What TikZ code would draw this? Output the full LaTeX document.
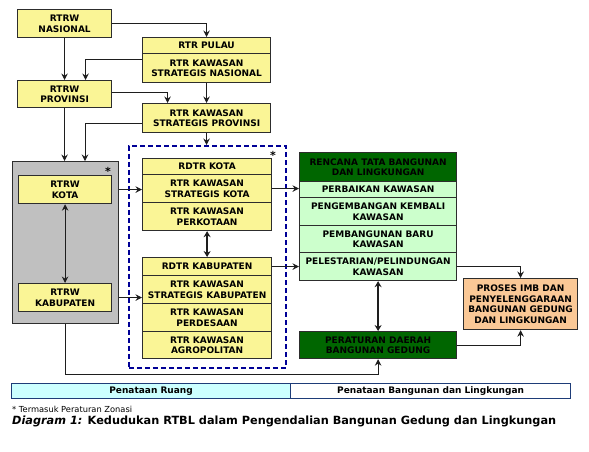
\documentclass[tikz,border=0pt]{standalone}
\usepackage{fontspec}
\setmainfont{DejaVu Sans}
\usetikzlibrary{arrows.meta,calc}
\definecolor{ylw}{RGB}{250,245,150}
\definecolor{dgreen}{RGB}{0,102,0}
\definecolor{lgreen}{RGB}{204,255,204}
\definecolor{peach}{RGB}{250,200,150}
\definecolor{grayfill}{RGB}{192,192,192}
\definecolor{navyd}{RGB}{0,0,150}
\definecolor{bandblue}{RGB}{30,60,120}
\definecolor{cyanfill}{RGB}{204,255,255}
\definecolor{bord}{RGB}{45,45,45}
\definecolor{lin}{RGB}{30,30,30}
\begin{document}
\begin{tikzpicture}[x=1pt,y=-1pt,
  box/.style={draw=bord, line width=1.2pt, anchor=north west, inner sep=0pt, align=center,
    font=\bfseries\fontsize{9}{10.6}\selectfont},
  ybox/.style={box, fill=ylw},
  gbox/.style={box, fill=lgreen},
  dgbox/.style={box, fill=dgreen},
  conn/.style={line width=0.9pt, draw=lin, -{Stealth[length=6.5pt,width=6.5pt,inset=2.2pt]}},
  dconn/.style={line width=0.9pt, draw=lin, {Stealth[length=6.5pt,width=6.5pt,inset=2.2pt]}-{Stealth[length=6.5pt,width=6.5pt,inset=2.2pt]}},
  dconnb/.style={line width=1.8pt, draw=lin, {Stealth[length=6pt,width=7pt,inset=2pt]}-{Stealth[length=6pt,width=7pt,inset=2pt]}},
  starlbl/.style={font=\bfseries\fontsize{11}{11}\selectfont, inner sep=0pt},
  bandbox/.style={draw=bandblue, line width=1.2pt, anchor=north west, inner sep=0pt,
    minimum height=15pt, font=\bfseries\fontsize{9}{10}\selectfont},
]
\useasboundingbox[fill=white] (0,0) rectangle (589,451);

% background containers
\node[box, fill=grayfill, minimum width=106pt, minimum height=162pt] (gray) at (12,161) {};
\node[draw=navyd, line width=1.5pt, dash pattern=on 5pt off 3pt, anchor=north west, inner sep=0pt,
  minimum width=157pt, minimum height=222pt] (dash) at (128,145) {};

% top hierarchy
\node[ybox, minimum width=94pt, minimum height=28pt] (nas) at (17,9) {RTRW\\NASIONAL};
\node[ybox, minimum width=128pt, minimum height=16pt] (pulau) at (142,37) {RTR PULAU};
\node[ybox, minimum width=128pt, minimum height=29pt] (ksn) at (142,53) {RTR KAWASAN\\STRATEGIS NASIONAL};
\node[ybox, minimum width=94pt, minimum height=27pt] (prov) at (17,80) {RTRW\\PROVINSI};
\node[ybox, minimum width=128pt, minimum height=29pt] (ksp) at (142,103) {RTR KAWASAN\\STRATEGIS PROVINSI};

% gray group
\node[ybox, minimum width=93pt, minimum height=28pt] (kota) at (18,175) {RTRW\\KOTA};
\node[ybox, minimum width=93pt, minimum height=28pt] (kab) at (18,283) {RTRW\\KABUPATEN};

% dashed group
\node[ybox, minimum width=129pt, minimum height=16pt] (rdtrkota) at (142,158) {RDTR KOTA};
\node[ybox, minimum width=129pt, minimum height=28pt] (kskota) at (142,174) {RTR KAWASAN\\STRATEGIS KOTA};
\node[ybox, minimum width=129pt, minimum height=28pt] (perkot) at (142,202) {RTR KAWASAN\\PERKOTAAN};
\node[ybox, minimum width=129pt, minimum height=18pt] (rdtrkab) at (142,257) {RDTR KABUPATEN};
\node[ybox, minimum width=129pt, minimum height=28pt] (kskab) at (142,275) {RTR KAWASAN\\STRATEGIS KABUPATEN};
\node[ybox, minimum width=129pt, minimum height=28pt] (perdes) at (142,303) {RTR KAWASAN\\PERDESAAN};
\node[ybox, minimum width=129pt, minimum height=27pt] (agro) at (142,331) {RTR KAWASAN\\AGROPOLITAN};

% RTBL group
\node[dgbox, minimum width=157pt, minimum height=29pt] (rtbl) at (299,152) {RENCANA TATA BANGUNAN\\DAN LINGKUNGAN};
\node[gbox, minimum width=157pt, minimum height=16pt] (perb) at (299,181) {PERBAIKAN KAWASAN};
\node[gbox, minimum width=157pt, minimum height=28pt] (peng) at (299,197) {PENGEMBANGAN KEMBALI\\KAWASAN};
\node[gbox, minimum width=157pt, minimum height=27pt] (pemb) at (299,225) {PEMBANGUNAN BARU\\KAWASAN};
\node[gbox, minimum width=157pt, minimum height=28pt] (pel) at (299,252) {PELESTARIAN/PELINDUNGAN\\KAWASAN};
\node[dgbox, minimum width=157pt, minimum height=27pt] (perda) at (299,331) {PERATURAN DAERAH\\BANGUNAN GEDUNG};
\node[box, fill=peach, minimum width=114pt, minimum height=51pt] (proses) at (463,278)
  {PROSES IMB DAN\\PENYELENGGARAAN\\BANGUNAN GEDUNG\\DAN LINGKUNGAN};

% stars
\node[starlbl] (star1) at (108,171) {*};
\node[starlbl] (star2) at (273,155) {*};

% connectors
\draw[conn] (nas.east) -| (pulau.north);
\draw[conn] (nas.south) -- (prov.north);
\draw[conn] ([yshift=-6pt]ksn.north west) -| ([xshift=21pt]prov.north);
\draw[conn] (ksn.south) -- (ksp.north);
\draw[conn] ([yshift=-12pt]prov.north east) -| ([xshift=-39pt]ksp.north);
\draw[conn] (ksp.south) -- (ksp.south |- dash.north);
\draw[conn] ([yshift=-20pt]ksp.north west) -| ([xshift=73pt]gray.north west);
\draw[conn] (prov.south) -- (prov.south |- gray.north);
\draw[conn] (gray.east |- kota.east) -- (kota.east -| kskota.west);
\draw[conn] (gray.east |- kab.east) -- (kab.east -| kskab.west);
\draw[dconn] (kota.south) -- (kab.north);
\draw[dconnb] (perkot.south) -- (rdtrkab.north);
\draw[conn] (kskota.east) -- (kskota.east -| perb.west);
\draw[conn] (rdtrkab.east) -- (rdtrkab.east -| pel.west);
\draw[dconnb] (pel.south) -- (perda.north);
\draw[conn] (pel.east) -| (proses.north);
\draw[conn] (perda.east) -| (proses.south);
\draw[conn] (kota.south |- gray.south) -- ++(0,50) -| (perda.south);

% bottom band
\node[bandbox, fill=cyanfill, minimum width=279pt] (ruang) at (11,383) {Penataan Ruang};
\node[bandbox, fill=white, minimum width=280pt] (bangunan) at (290,383) {Penataan Bangunan dan Lingkungan};

\node[anchor=west, inner sep=0pt, font=\fontsize{8.3}{9}\selectfont] (note) at (12,409) {* Termasuk Peraturan Zonasi};
\node[anchor=west, inner sep=0pt, font=\bfseries\fontsize{11.3}{13}\selectfont] (caption) at (12,421)
  {\textit{Diagram 1:} Kedudukan RTBL dalam Pengendalian Bangunan Gedung dan Lingkungan};
\end{tikzpicture}
\end{document}
